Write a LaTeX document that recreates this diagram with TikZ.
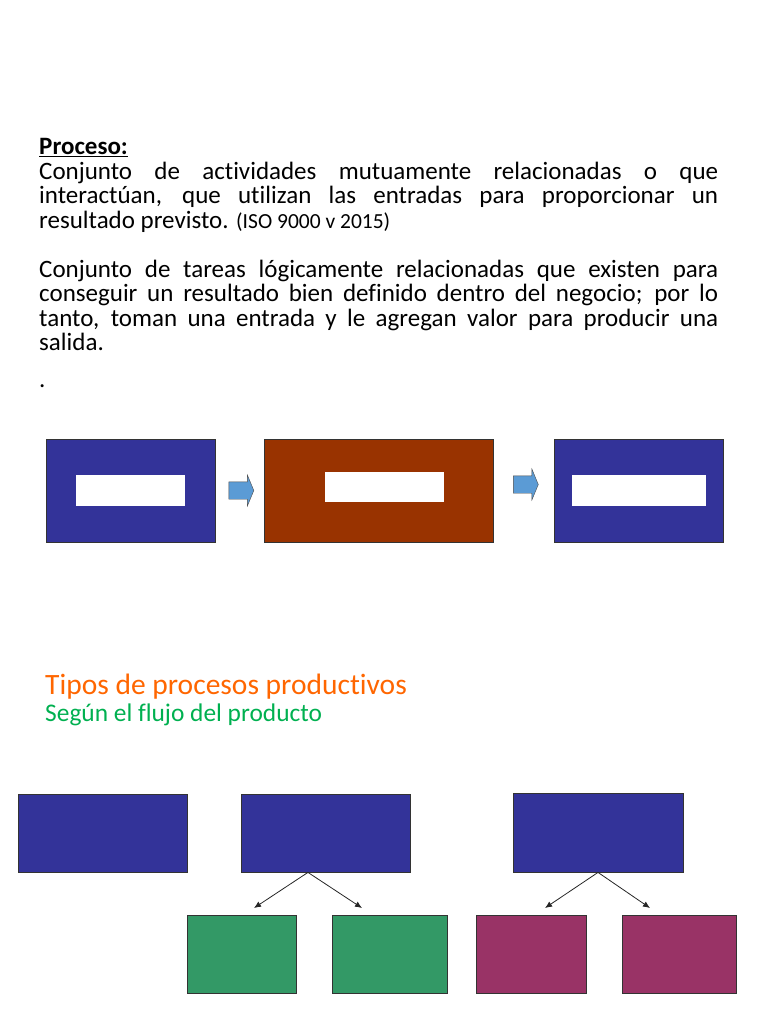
\documentclass[tikz,border=0pt]{standalone}
\usepackage{fontspec}
\setmainfont{Carlito}[Ligatures=NoCommon]
\usetikzlibrary{shapes.arrows,arrows.meta}
\definecolor{azul}{HTML}{333399}
\definecolor{cafe}{HTML}{993300}
\definecolor{verde}{HTML}{339966}
\definecolor{morado}{HTML}{993366}
\definecolor{celeste}{HTML}{5B9BD5}
\definecolor{naranja}{HTML}{FF6600}
\definecolor{verdetit}{HTML}{00B050}
\tikzset{
  caja/.style={rectangle, draw=black!80, line width=0.8pt, inner sep=0pt},
  hueco/.style={rectangle, fill=white, inner sep=0pt},
  flecha/.style={single arrow, fill=celeste, draw=black!70, line width=0.4pt,
    inner xsep=0pt, inner ysep=8.5pt, minimum height=25pt, minimum width=31pt,
    single arrow head extend=7pt, single arrow tip angle=135},
  rama/.style={-{Latex[length=7pt,width=6pt]}, line width=0.8pt, black!85},
  texto/.style={inner sep=0pt, anchor=base west}
}
\begin{document}
\begin{tikzpicture}[x=1pt,y=-1pt]
      \useasboundingbox (0,0) rectangle (768,1024);
      % definicion
      \node[texto, text width=679pt, align=justify,
        font=\fontsize{25}{24.5}\selectfont] (def) at (39,155)
        {\hyphenpenalty=10000 \underline{\textbf{Proceso:}}\\
        Conjunto de actividades mutuamente relacionadas o que\linebreak
        interactúan, que utilizan las entradas para proporcionar un\linebreak
        resultado previsto. {\fontsize{21.5}{24.5}\selectfont (ISO 9000 v 2015)}\\[24.5pt]
        Conjunto de tareas lógicamente relacionadas que existen para\linebreak
        conseguir un resultado bien definido dentro del negocio; por lo\linebreak
        tanto, toman una entrada y le agregan valor para producir una\linebreak
        salida.};
      \node[texto, font=\fontsize{25}{24.5}\selectfont] (punto) at (39,387) {.};
      % proceso
      \node[caja, fill=azul, minimum width=169pt, minimum height=103pt] (entrada) at (130.5,490.5) {};
      \node[caja, fill=cafe, minimum width=229pt, minimum height=103pt] (proceso) at (378.5,490.5) {};
      \node[caja, fill=azul, minimum width=169pt, minimum height=103pt] (salida) at (638.5,490.5) {};
      \node[hueco, minimum width=109pt, minimum height=31pt] (h1) at (130.5,490) {};
      \node[hueco, minimum width=119pt, minimum height=30pt] (h2) at (384.5,487) {};
      \node[hueco, minimum width=134pt, minimum height=31pt] (h3) at (639,490) {};
      \node[flecha] (f1) at (239.5,490.5) {};
      \node[flecha] (f2) at (524,484.5) {};
      % tipos
      \node[texto, text=naranja, font=\fontsize{29.5}{31}\selectfont] (tipos) at (45,694)
        {Tipos de procesos productivos};
      \node[texto, text=verdetit, font=\fontsize{25.4}{27}\selectfont] (segun) at (45,721)
        {Según el flujo del producto};
      \node[caja, fill=azul, minimum width=169pt, minimum height=78pt] (a) at (102.5,833) {};
      \node[caja, fill=azul, minimum width=169pt, minimum height=78pt] (b) at (325.5,833) {};
      \node[caja, fill=azul, minimum width=170pt, minimum height=79pt] (c) at (598,832.5) {};
      \node[caja, fill=verde, minimum width=109pt, minimum height=78pt] (b1) at (241.5,954) {};
      \node[caja, fill=verde, minimum width=115pt, minimum height=78pt] (b2) at (389.5,954) {};
      \node[caja, fill=morado, minimum width=110pt, minimum height=78pt] (c1) at (531,954) {};
      \node[caja, fill=morado, minimum width=114pt, minimum height=78pt] (c2) at (679,954) {};
      \coordinate (b1in) at (254,908);
      \coordinate (b2in) at (362,908);
      \coordinate (c1in) at (545,908);
      \coordinate (c2in) at (650,908);
      \begin{scope}[rama]
        \draw (b.246) to (b1in);
        \draw (b.246) to (b2in);
        \draw (c.south) to (c1in);
        \draw (c.south) to (c2in);
      \end{scope}
    \end{tikzpicture}
\end{document}
